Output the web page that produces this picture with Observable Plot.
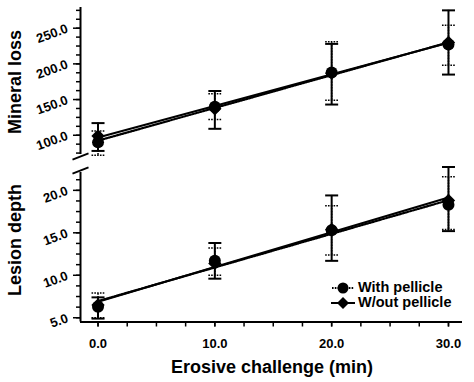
<!DOCTYPE html>
<html>
<head>
<meta charset="utf-8">
<script src="https://cdn.jsdelivr.net/npm/d3@7"></script>
<script src="https://cdn.jsdelivr.net/npm/@observablehq/plot@0.6"></script>
<style>
  html, body { margin: 0; padding: 0; background: #fff; }
  #wrap { position: relative; width: 474px; height: 382px; overflow: hidden; font-family: 'Liberation Sans', Arial, sans-serif; font-weight: bold; color: #000; }
  .ytitle { position: absolute; font-size: 18px; white-space: nowrap; transform: translate(-50%, -50%) rotate(-90deg); }
  .xtitle { position: absolute; font-size: 18px; white-space: nowrap; transform: translate(-50%, -50%); }
  .legend { position: absolute; left: 330px; top: 280px; font-size: 14.5px; line-height: 15px; }
  .legend div { display: flex; align-items: center; height: 15px; }
  .legend svg { margin-right: 2px; }
</style>
</head>
<body>
<div id="wrap"></div>
<script>
// ---- data ----
const times = [0, 10, 20, 30];
const xTicks = [0, 10, 20, 30];
const xMinorTicks = [0, 2.5, 5, 7.5, 10, 12.5, 15, 17.5, 20, 22.5, 25, 27.5, 30];

const mineralTicks = [100, 150, 200, 250];
const mineralMinorTicks = [75, 87.5, 100, 112.5, 125, 137.5, 150, 162.5, 175, 187.5, 200, 212.5, 225, 237.5, 250, 262.5, 275];
const mineralWith = [90, 140, 188, 227];
const mineralWithLo = [72, 122, 149, 198];
const mineralWithHi = [106, 158, 231, 254];
const mineralWithout = [99, 137, 187, 230];
const mineralWithoutLo = [78, 109, 143, 185];
const mineralWithoutHi = [117, 162, 228, 275];

const lesionTicks = [5, 10, 15, 20];
const lesionMinorTicks = [5, 6.25, 7.5, 8.75, 10, 11.25, 12.5, 13.75, 15, 16.25, 17.5, 18.75, 20, 21.25];
const lesionWith = [6.3, 11.7, 15.3, 18.3];
const lesionWithLo = [5.0, 10.0, 12.4, 15.4];
const lesionWithHi = [7.9, 13.2, 18.2, 21.6];
const lesionWithout = [6.5, 11.4, 15.4, 18.8];
const lesionWithoutLo = [4.9, 9.6, 11.7, 15.2];
const lesionWithoutHi = [7.4, 13.8, 19.4, 22.75];

const seriesNames = ["With pellicle", "W/out pellicle"];
const yTitles = ["Mineral loss", "Lesion depth"];
const xTitle = "Erosive challenge (min)";

const xDomain = [-1.5, 31.2];
const mineralDomain = [73, 279];
const lesionDomain = [4.5, 22.1];

// ---- helpers ----
const rows = (m, lo, hi) => times.map((t, i) => ({t, m: m[i], lo: lo[i], hi: hi[i]}));
const capSymbol = {draw(ctx) { ctx.moveTo(-6.5, 0); ctx.lineTo(6.5, 0); }};
const slashSymbol = {draw(ctx) { ctx.moveTo(-8, 3.2); ctx.lineTo(8, -3.2); }};
const fmt = d3.format(".1f");
const DOT = "1.6,1.2";

function seriesMarks(withR, withoutR) {
  return [
    Plot.linearRegressionY(withR, {x: "t", y: "m", stroke: "black", strokeWidth: 2.2, strokeDasharray: DOT, ci: 0}),
    Plot.linearRegressionY(withoutR, {x: "t", y: "m", stroke: "black", strokeWidth: 2, ci: 0}),
    Plot.ruleX(withR, {x: "t", y1: "lo", y2: "hi", stroke: "black", strokeWidth: 1.5, strokeDasharray: DOT}),
    Plot.dot(withR, {x: "t", y: "lo", symbol: capSymbol, stroke: "black", strokeWidth: 1.5, strokeDasharray: DOT}),
    Plot.dot(withR, {x: "t", y: "hi", symbol: capSymbol, stroke: "black", strokeWidth: 1.5, strokeDasharray: DOT}),
    Plot.ruleX(withoutR, {x: "t", y1: "lo", y2: "hi", stroke: "black", strokeWidth: 2}),
    Plot.dot(withoutR, {x: "t", y: "lo", symbol: capSymbol, stroke: "black", strokeWidth: 2}),
    Plot.dot(withoutR, {x: "t", y: "hi", symbol: capSymbol, stroke: "black", strokeWidth: 2}),
    Plot.dot(withR, {x: "t", y: "m", symbol: "circle", r: 6, fill: "black"}),
    Plot.dot(withoutR, {x: "t", y: "m", symbol: "diamond2", r: 6, fill: "black"})
  ];
}

const svgStyle = {fontFamily: "'Liberation Sans', Arial, sans-serif", fontWeight: "bold", fontSize: "13px", overflow: "visible", background: "transparent", color: "black"};

const topPlot = Plot.plot({
  width: 474, height: 165,
  marginLeft: 80, marginRight: 12, marginTop: 7, marginBottom: 11,
  x: {domain: xDomain, axis: null},
  y: {domain: mineralDomain, axis: null},
  style: svgStyle,
  marks: [
    Plot.axisY(mineralMinorTicks, {tickSize: 4, tickFormat: () => "", label: null, strokeWidth: 1.5}),
    Plot.axisY(mineralTicks, {tickSize: 7, tickPadding: 6, tickFormat: fmt, tickRotate: -20, label: null, strokeWidth: 1.5, fontSize: 13, fontWeight: "bold"}),
    Plot.ruleX([xDomain[0]], {strokeWidth: 2}),
    Plot.dot([{x: xDomain[0], y: mineralDomain[0]}], {x: "x", y: "y", symbol: slashSymbol, stroke: "black", strokeWidth: 1.8, fill: "none", dy: 2}),
    ...seriesMarks(rows(mineralWith, mineralWithLo, mineralWithHi), rows(mineralWithout, mineralWithoutLo, mineralWithoutHi))
  ]
});

const bottomPlot = Plot.plot({
  width: 474, height: 222,
  marginLeft: 80, marginRight: 12, marginTop: 12, marginBottom: 60.5,
  x: {domain: xDomain, axis: null},
  y: {domain: lesionDomain, axis: null},
  style: svgStyle,
  marks: [
    Plot.axisY(lesionMinorTicks, {tickSize: 4, tickFormat: () => "", label: null, strokeWidth: 1.5}),
    Plot.axisY(lesionTicks, {tickSize: 7, tickPadding: 6, tickFormat: fmt, tickRotate: -20, label: null, strokeWidth: 1.5, fontSize: 13, fontWeight: "bold"}),
    Plot.axisX(xMinorTicks, {tickSize: 5, tickFormat: () => "", label: null, strokeWidth: 1.5}),
    Plot.axisX(xTicks, {tickSize: 5, tickPadding: 12, tickFormat: fmt, label: null, strokeWidth: 1.5, fontSize: 13, fontWeight: "bold"}),
    Plot.ruleX([xDomain[0]], {strokeWidth: 2}),
    Plot.ruleY([lesionDomain[0]], {strokeWidth: 2}),
    Plot.dot([{x: xDomain[0], y: lesionDomain[1]}], {x: "x", y: "y", symbol: slashSymbol, stroke: "black", strokeWidth: 1.8, fill: "none", dy: -2}),
    ...seriesMarks(rows(lesionWith, lesionWithLo, lesionWithHi), rows(lesionWithout, lesionWithoutLo, lesionWithoutHi))
  ]
});

const wrap = document.getElementById("wrap");
topPlot.style.position = "absolute"; topPlot.style.left = "0px"; topPlot.style.top = "0px";
bottomPlot.style.position = "absolute"; bottomPlot.style.left = "0px"; bottomPlot.style.top = "160px";
wrap.appendChild(topPlot);
wrap.appendChild(bottomPlot);

// titles
function addText(cls, txt, x, y) {
  const d = document.createElement("div");
  d.className = cls; d.textContent = txt;
  d.style.left = x + "px"; d.style.top = y + "px";
  wrap.appendChild(d);
}
addText("ytitle", yTitles[0], 15, 82);
addText("ytitle", yTitles[1], 15, 240);
addText("xtitle", xTitle, 272, 367);

// legend
const leg = document.createElement("div");
leg.className = "legend";
const legSym = [
  `<svg width="26" height="14"><line x1="2" x2="24" y1="7" y2="7" stroke="black" stroke-width="2" stroke-dasharray="${DOT}"/><circle cx="13" cy="7" r="5.5" fill="black"/></svg>`,
  `<svg width="26" height="14"><line x1="1" x2="25" y1="7" y2="7" stroke="black" stroke-width="2"/><path d="M13,1 L19,7 L13,13 L7,7 Z" fill="black"/></svg>`
];
seriesNames.forEach((n, i) => {
  const row = document.createElement("div");
  row.innerHTML = legSym[i] + `<span>${n}</span>`;
  leg.appendChild(row);
});
wrap.appendChild(leg);
</script>
</body>
</html>
